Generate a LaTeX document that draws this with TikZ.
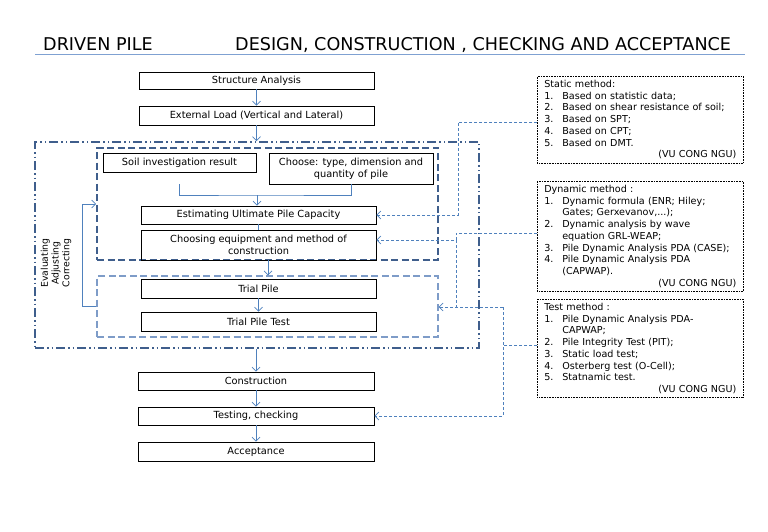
\documentclass[tikz,border=0pt]{standalone}
\usepackage{fontspec}
\setmainfont{DejaVu Sans}
\usetikzlibrary{arrows.meta}

\definecolor{flowblue}{HTML}{4F81BD}
\definecolor{frameblue}{HTML}{3F5E8C}
\definecolor{framelight}{HTML}{7E9CC8}
\definecolor{titleblue}{HTML}{7FA1D2}

\newcommand{\numitem}[2]{\makebox[18pt][l]{#1}#2}
\newcommand{\contline}[1]{\hspace*{18pt}#1}
\newcommand{\attrib}{\hspace*{\fill}(VU CONG NGU)}

\begin{document}
\begin{tikzpicture}[x=1pt, y=-1pt,
  flowbox/.style={draw=black, line width=0.6pt, inner sep=2pt, align=center,
    font=\fontsize{9.8}{12}\selectfont},
  methodbox/.style={draw=black, densely dotted, line width=0.6pt, anchor=north west,
    text width=192pt, inner xsep=7pt, inner ysep=4pt, align=left,
    font=\fontsize{9.6}{11.7}\selectfont},
  tip/.style={-{Straight Barb[length=4pt, width=8pt]}},
  arr/.style={flowblue, line width=0.7pt, tip},
  link/.style={flowblue, line width=0.7pt, dash pattern=on 3pt off 2pt},
  backline/.style={flowblue, line width=0.7pt}]

  \useasboundingbox (0,0) rectangle (768,532);

  % Title
  \node[anchor=base west, inner sep=0pt, font=\fontsize{17.6}{19}\selectfont] (ttlleft) at (43,51) {DRIVEN PILE};
  \node[anchor=base west, inner sep=0pt, font=\fontsize{17.6}{19}\selectfont] (ttlright) at (235,51) {DESIGN, CONSTRUCTION , CHECKING AND ACCEPTANCE};
  \draw[titleblue, line width=0.8pt] (35,54) -- (745,54);

  % Frames
  \node[draw=frameblue, line width=1.6pt, dash pattern=on 9pt off 3pt on 1.5pt off 3pt on 1.5pt off 3pt,
    minimum width=444pt, minimum height=206pt] (outer) at (257,245) {};
  \node[draw=frameblue, line width=1.6pt, dash pattern=on 7pt off 3.5pt,
    minimum width=341pt, minimum height=112pt] (designframe) at (267.5,204) {};
  \node[draw=framelight, line width=1.3pt, dash pattern=on 7pt off 3.5pt,
    minimum width=341pt, minimum height=61pt] (trialframe) at (267.5,306.5) {};

  % Flow boxes
  \node[flowbox, minimum width=235pt, minimum height=17pt] (sa) at (256.5,80.5) {Structure Analysis};
  \node[flowbox, minimum width=235pt, minimum height=19pt] (el) at (256.5,115.5) {External Load (Vertical and Lateral)};
  \node[flowbox, minimum width=153pt, minimum height=19pt] (soil) at (179.5,162.5) {Soil investigation result};
  \node[flowbox, minimum width=164pt, minimum height=31pt] (choose) at (351,168.5) {Choose: type, dimension and\\quantity of pile};
  \node[flowbox, minimum width=235pt, minimum height=18pt] (est) at (258.5,215) {Estimating Ultimate Pile Capacity};
  \node[flowbox, minimum width=235pt, minimum height=30pt] (equip) at (258.5,245) {Choosing equipment and method of\\construction};
  \node[flowbox, minimum width=235pt, minimum height=19pt] (tp) at (258.5,288.5) {Trial Pile};
  \node[flowbox, minimum width=235pt, minimum height=19pt] (tpt) at (258.5,321.5) {Trial Pile Test};
  \node[flowbox, minimum width=236pt, minimum height=18pt] (cons) at (256,381) {Construction};
  \node[flowbox, minimum width=236pt, minimum height=18pt] (check) at (256,416) {Testing, checking};
  \node[flowbox, minimum width=236pt, minimum height=19pt] (acc) at (256,451.5) {Acceptance};

  % Side label
  \node[rotate=90, align=center, inner sep=0pt, font=\fontsize{9.3}{10.8}\selectfont] (eac) at (56,263) {Evaluating\\Adjusting\\Correcting};

  % Method boxes
  \node[methodbox] (sm) at (537,76) {Static method:\\
    \numitem{1.}{Based on statistic data;}\\
    \numitem{2.}{Based on shear resistance of soil;}\\
    \numitem{3.}{Based on SPT;}\\
    \numitem{4.}{Based on CPT;}\\
    \numitem{5.}{Based on DMT.}\\
    \attrib};
  \node[methodbox] (dm) at (537,181) {Dynamic method :\\
    \numitem{1.}{Dynamic formula (ENR; Hiley;}\\
    \contline{Gates; Gerxevanov,...);}\\
    \numitem{2.}{Dynamic analysis by wave}\\
    \contline{equation GRL-WEAP;}\\
    \numitem{3.}{Pile Dynamic Analysis PDA (CASE);}\\
    \numitem{4.}{Pile Dynamic Analysis PDA}\\
    \contline{(CAPWAP).}\\
    \attrib};
  \node[methodbox] (tm) at (537,299) {Test method :\\
    \numitem{1.}{Pile Dynamic Analysis PDA-}\\
    \contline{CAPWAP;}\\
    \numitem{2.}{Pile Integrity Test (PIT);}\\
    \numitem{3.}{Static load test;}\\
    \numitem{4.}{Osterberg test (O-Cell);}\\
    \numitem{5.}{Statnamic test.}\\
    \attrib};

  % Main flow
  \coordinate (join) at (257,195);
  \coordinate (down) at (268,260);
  \draw[arr] (sa) -- (el);
  \draw[arr] (el) -- (el.south |- outer.north);
  \draw[backline] (soil.south |- choose.south) |- (join) -| (choose.south);
  \draw[arr] (join) -- (join |- est.north);
  \draw[backline] (est) -- (equip);
  \draw[arr] (down) -- (down |- trialframe.north);
  \draw[arr] (tp) -- (tpt);
  \draw[arr] (outer.south -| cons) -- (cons);
  \draw[arr] (cons) -- (check);
  \draw[arr] (check) -- (acc);

  % Feedback
  \coordinate (fbbot) at (82,306);
  \coordinate (fbtop) at (82,204);
  \draw[backline, tip] (fbbot -| trialframe.west) -- (fbbot) -- (fbtop) -- (fbtop -| designframe.west);

  % Method links
  \coordinate (s1) at (458,122);
  \coordinate (d1) at (456,233);
  \coordinate (d2) at (456,240);
  \coordinate (t1) at (503,307);
  \coordinate (t2) at (503,345);
  \draw[link, tip] (s1 -| sm.west) -- (s1) |- (est.east);
  \draw[link, tip] (d1 -| dm.west) -- (d1) -- (d2) -- (d2 -| equip.east);
  \draw[link] (d2) -- (d2 |- t1);
  \draw[link] (t2 -| tm.west) -- (t2);
  \draw[link, tip] (t1) -- (t1 -| trialframe.east);
  \draw[link, tip] (t1) |- (check.east);

\end{tikzpicture}
\end{document}
